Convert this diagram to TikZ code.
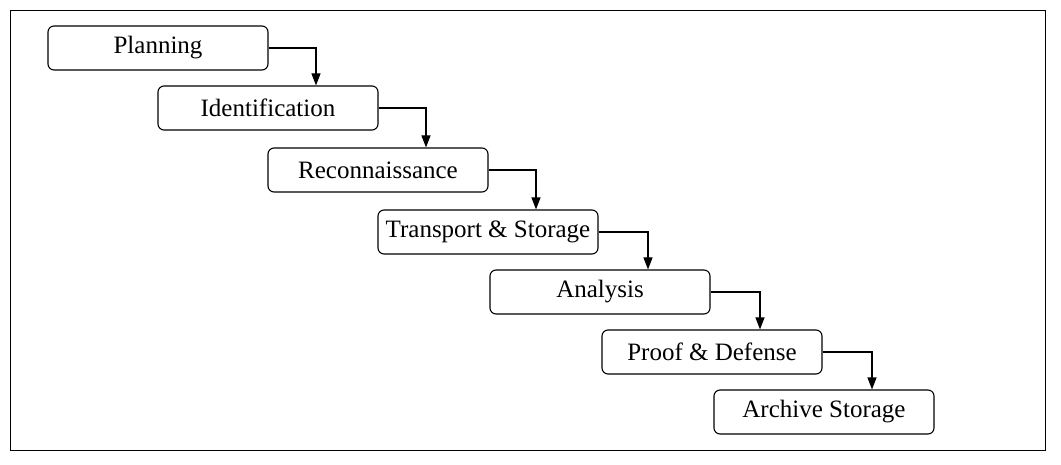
\documentclass[tikz,border=0pt]{standalone}
\usepackage{fontspec}
\setmainfont{Liberation Serif}
\usetikzlibrary{calc,arrows.meta}
\begin{document}
\begin{tikzpicture}[x=1pt,y=-1pt,
  box/.style={draw,line width=1.1pt,rounded corners=6pt,minimum width=220pt,minimum height=44pt,inner sep=0pt,font=\fontsize{25}{28}\selectfont},
  conn/.style={line width=1.1pt,-{Triangle[length=12pt,width=9pt]}}]
\useasboundingbox (0,0) rectangle (1061,465);
\draw[line width=0.8pt] (10,10) rectangle (1045,450);
\node[box] (a) at (158,48) {Planning};
\node[box] (b) at (268,108) {Identification};
\node[box] (c) at (378,170) {Reconnaissance};
\node[box] (d) at (488,232) {Transport \& Storage};
\node[box] (e) at (600,292) {Analysis};
\node[box] (f) at (712,352) {Proof \& Defense};
\node[box] (g) at (824,412) {Archive Storage};
\foreach \u/\v in {a/b,b/c,c/d,d/e,e/f,f/g}
  \draw[conn] (\u.east) -| ($(\v.north)+(48,0)$);
\end{tikzpicture}
\end{document}
